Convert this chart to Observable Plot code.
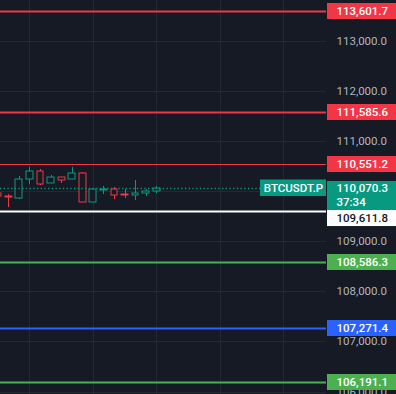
<!DOCTYPE html>
<html><head><meta charset="utf-8">
<script src="https://cdn.jsdelivr.net/npm/d3@7"></script>
<script src="https://cdn.jsdelivr.net/npm/@observablehq/plot@0.6"></script>
<style>html,body{margin:0;padding:0;background:#161a25;overflow:hidden}</style>
</head><body><div id="chart"></div>
<script>
// ---- data ----
const candleOpen  = [109969,109903,109869,110236,110396,110156,110276,110236,110356,109789,110029,110037,109937,109917,109957,109997];
const candleHigh  = [109975,109943,110302,110482,110442,110322,110276,110482,110382,110063,110103,110077,110037,110216,110043,110103];
const candleLow   = [109895,109677,109843,110148,110122,110156,110168,110236,109789,109789,109937,109849,109869,109829,109909,109969];
const candleClose = [109903,109883,110236,110396,110142,110276,110228,110356,109789,110043,110049,109917,109917,109957,109997,110070.3];
const levelPrices = [113601.7, 111585.6, 110551.2, 109611.8, 108586.3, 107271.4, 106191.1];
const lastPrice = 110070.3;
const countdown = "37:34";
const symbol = "BTCUSDT.P";
const yTicks = [106000,107000,108000,109000,110000,111000,112000,113000];
const gridCandles = [3, 9, 15, 21, 27];

// ---- styles ----
const BG = "#161a25", GRID = "#242833", AXIS_TEXT = "#b2b5be";
const UP = "#089981", DOWN = "#f23645";
const levelColors = ["#f23645","#f23645","#f23645","#ffffff","#4caf50","#2962ff","#4caf50"];
const levelWidths = [2,2,1,2,2,2,2];
const levelTextColors = ["#fff","#fff","#fff","#131722","#fff","#fff","#fff"];

const W = 396, H = 394, AXIS_W = 70;
const xDomain = [0.2176, 31.06];
const yDomain = [105951, 113815];
const xMax = xDomain[1];
const fmt = d3.format(",.1f");

const candles = candleOpen.map((o, i) => ({
  i, open: o, high: candleHigh[i], low: candleLow[i], close: candleClose[i],
  color: candleClose[i] >= o ? UP : DOWN
}));

const levels = levelPrices.map((p, k) => ({
  price: p, color: levelColors[k], width: levelWidths[k], text: levelTextColors[k], up: 8, down: 8, last: false
}));
const tags = levels.concat([{price: lastPrice, color: UP, text: "#fff", up: 7, down: 22, last: true}]);

// tag collision avoidance (push lower tags down)
const yPx = d3.scaleLinear(yDomain, [H, 0]);
tags.sort((a, b) => b.price - a.price);
let prevBottom = -Infinity;
for (const t of tags) {
  const c = yPx(t.price);
  let top = c - t.up;
  t.shift = top < prevBottom ? prevBottom - top : 0;
  prevBottom = c + t.shift + t.down;
}

// axis labels hidden behind the last-price tag are not drawn
const lastTag = tags.find(t => t.last);
const hiddenBand = [yPx(lastPrice) - lastTag.up, yPx(lastPrice) + lastTag.down];
const labelTicks = yTicks.filter(v => { const p = yPx(v); return p < hiddenBand[0] || p > hiddenBand[1]; });

const tagMarks = tags.flatMap(t => {
  const marks = [
    Plot.rect([t], {x1: () => xMax, x2: () => xMax, y1: d => d.price, y2: d => d.price,
      fill: t.color, insetLeft: 1, insetRight: -AXIS_W, insetTop: -t.up, insetBottom: -t.down, dy: t.shift}),
    Plot.text([t], {x: () => xMax, y: d => d.price, text: d => fmt(d.price), dx: 10, dy: t.shift,
      textAnchor: "start", fill: t.text, fontSize: 11.5, fontWeight: 500})
  ];
  if (t.last) {
    marks.push(Plot.text([t], {x: () => xMax, y: d => d.price, text: () => countdown, dx: 10, dy: t.shift + 14,
      textAnchor: "start", fill: t.text, fontSize: 11.5, fontWeight: 500}));
  }
  return marks;
});

const plot = Plot.plot({
  width: W, height: H,
  marginLeft: 0, marginRight: AXIS_W, marginTop: 0, marginBottom: 0,
  style: {background: BG, color: AXIS_TEXT, fontFamily: "Roboto, sans-serif", fontSize: "11.5px"},
  x: {domain: xDomain, axis: null, round: true},
  y: {domain: yDomain, round: true},
  marks: [
    Plot.gridX(gridCandles, {stroke: GRID, strokeOpacity: 1}),
    Plot.gridY(yTicks, {stroke: GRID, strokeOpacity: 1}),
    Plot.axisY({ticks: labelTicks, anchor: "right", tickSize: 0, tickPadding: 10, tickFormat: fmt, label: null, fill: AXIS_TEXT}),
    Plot.ruleY(levels, {y: "price", stroke: "color", strokeWidth: "width"}),
    Plot.ruleX(candles, {x: "i", y1: "low", y2: "high", stroke: "color", strokeWidth: 1}),
    Plot.rect(candles, {x1: d => d.i - 0.32, x2: d => d.i + 0.32, y1: "open", y2: "close", fill: BG, stroke: "color", strokeWidth: 1}),
    Plot.ruleY([lastPrice], {stroke: UP, strokeWidth: 1.3, strokeDasharray: "1.3,2.4", insetRight: 66}),
    Plot.rect([lastPrice], {x1: () => xMax, x2: () => xMax, y1: d => d, y2: d => d, fill: UP,
      insetLeft: -66, insetRight: 0, insetTop: -8.5, insetBottom: -8}),
    Plot.text([symbol], {x: () => xMax, y: () => lastPrice, text: d => d, dx: -33, textAnchor: "middle", fill: "#fff", fontSize: 11.5, fontWeight: 500}),
    ...tagMarks
  ]
});
document.getElementById("chart").appendChild(plot);
</script>
</body></html>
